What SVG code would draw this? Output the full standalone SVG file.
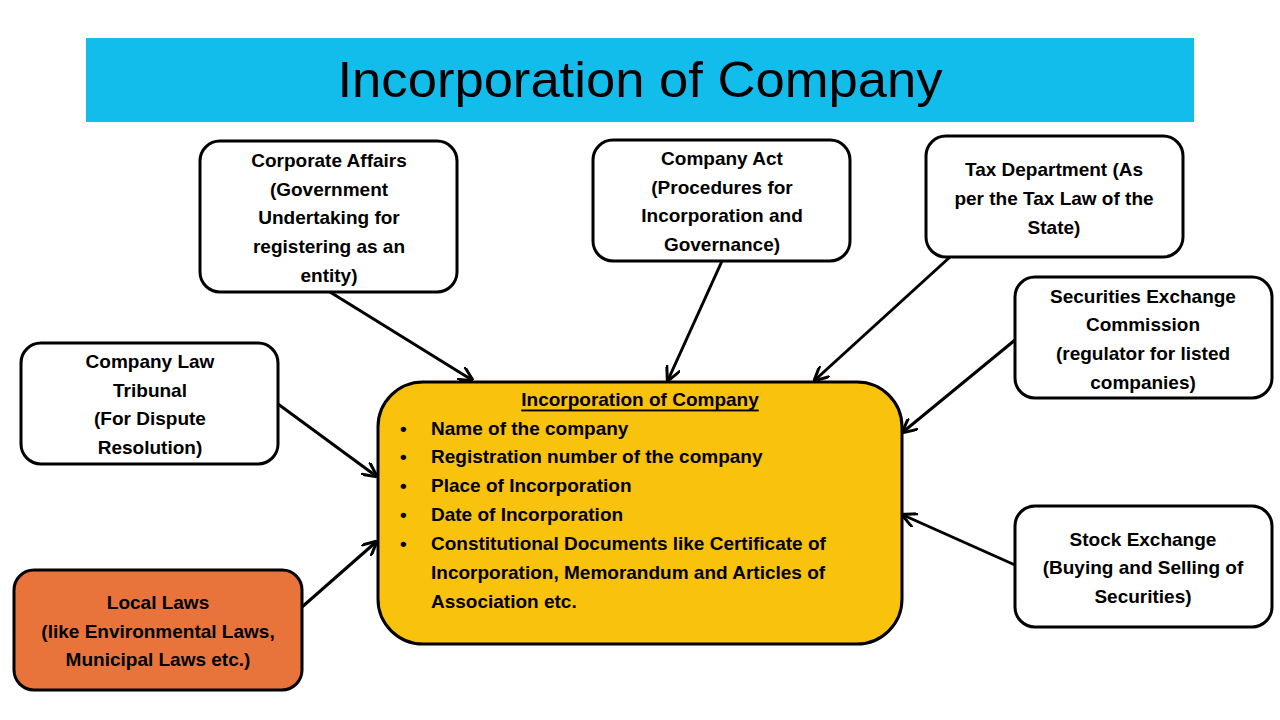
<svg xmlns="http://www.w3.org/2000/svg" width="1280" height="720" viewBox="0 0 1280 720">
<defs>
<style>
.n{fill:#fff;stroke:#000;stroke-width:3}
.t{font-family:"Liberation Sans",Arial,sans-serif;font-weight:bold;font-size:19px;fill:#000;text-anchor:middle;dominant-baseline:central}
.b{font-family:"Liberation Sans",Arial,sans-serif;font-weight:bold;font-size:19px;fill:#000;dominant-baseline:central}
.c line{stroke:#000;stroke-width:3;marker-end:url(#ah)}
</style>
<marker id="ah" viewBox="0 0 10 10" refX="9" refY="5" markerWidth="5" markerHeight="5" orient="auto" markerUnits="strokeWidth"><path d="M0,0 L10,5 L0,10" fill="none" stroke="#000" stroke-width="2"/></marker>
</defs>
<rect width="1280" height="720" fill="#fff"/>
<g id="title"><rect x="86" y="38" width="1108" height="84" fill="#12BDEC"/>
<text x="640" y="80" font-family="Liberation Sans,Arial,sans-serif" font-size="50" text-anchor="middle" dominant-baseline="central" textLength="605" lengthAdjust="spacingAndGlyphs">Incorporation of Company</text></g>
<g id="corp"><rect class="n" x="200" y="141" width="257" height="151" rx="20"/>
<text class="t" x="329" y="160">Corporate Affairs</text><text class="t" x="329" y="189">(Government</text><text class="t" x="329" y="217">Undertaking for</text><text class="t" x="329" y="246">registering as an</text><text class="t" x="329" y="275">entity)</text></g>
<g id="act"><rect class="n" x="593" y="140" width="257" height="121" rx="20"/>
<text class="t" x="722" y="158">Company Act</text><text class="t" x="722" y="187">(Procedures for</text><text class="t" x="722" y="215">Incorporation and</text><text class="t" x="722" y="244">Governance)</text></g>
<g id="tax"><rect class="n" x="926" y="136" width="257" height="121" rx="20"/>
<text class="t" x="1054" y="169">Tax Department (As</text><text class="t" x="1054" y="198">per the Tax Law of the</text><text class="t" x="1054" y="227">State)</text></g>
<g id="sec"><rect class="n" x="1015" y="277" width="257" height="121" rx="20"/>
<text class="t" x="1143" y="296">Securities Exchange</text><text class="t" x="1143" y="324">Commission</text><text class="t" x="1143" y="353">(regulator for listed</text><text class="t" x="1143" y="382">companies)</text></g>
<g id="clt"><rect class="n" x="21" y="343" width="257" height="121" rx="20"/>
<text class="t" x="150" y="361">Company Law</text><text class="t" x="150" y="390">Tribunal</text><text class="t" x="150" y="418">(For Dispute</text><text class="t" x="150" y="447">Resolution)</text></g>
<g id="stock"><rect class="n" x="1015" y="506" width="257" height="121" rx="20"/>
<text class="t" x="1143" y="539">Stock Exchange</text><text class="t" x="1143" y="567">(Buying and Selling of</text><text class="t" x="1143" y="596">Securities)</text></g>
<g id="local"><rect x="14" y="570" width="288" height="120" rx="20" fill="#E8743B" stroke="#000" stroke-width="3"/>
<text class="t" x="158" y="602">Local Laws</text><text class="t" x="158" y="631">(like Environmental Laws,</text><text class="t" x="158" y="659">Municipal Laws etc.)</text></g>
<g id="center"><rect x="378" y="382" width="524" height="262" rx="45" fill="#F8C20D" stroke="#000" stroke-width="3"/>
<text class="t" x="640" y="399" text-decoration="underline">Incorporation of Company</text>
<g class="b"><text class="b" x="400" y="428">•</text><text class="b" x="400" y="456">•</text><text class="b" x="400" y="485">•</text><text class="b" x="400" y="514">•</text><text class="b" x="400" y="543">•</text></g>
<text class="b" x="431" y="428">Name of the company</text>
<text class="b" x="431" y="456">Registration number of the company</text>
<text class="b" x="431" y="485">Place of Incorporation</text>
<text class="b" x="431" y="514">Date of Incorporation</text>
<text class="b" x="431" y="543">Constitutional Documents like Certificate of</text>
<text class="b" x="431" y="572">Incorporation, Memorandum and Articles of</text>
<text class="b" x="431" y="601">Association etc.</text></g>
<g id="connectors" class="c">
<line x1="330" y1="292" x2="472" y2="380"/>
<line x1="722" y1="261" x2="668" y2="380"/>
<line x1="950" y1="257" x2="815" y2="380"/>
<line x1="1015" y1="340" x2="903" y2="432"/>
<line x1="278" y1="404" x2="376" y2="476"/>
<line x1="1015" y1="565" x2="903" y2="515"/>
<line x1="302" y1="607" x2="376" y2="542"/>
</g>
</svg>
